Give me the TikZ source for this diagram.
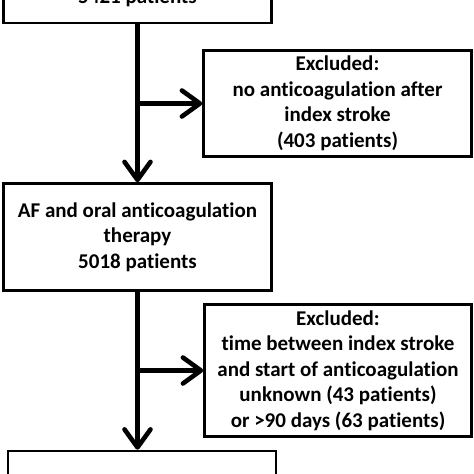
\documentclass[tikz,border=0pt]{standalone}
\usepackage{fontspec}
\setmainfont{Carlito}[Ligatures={NoCommon,NoContextual}]
\usetikzlibrary{arrows.meta}
\begin{document}
\begin{tikzpicture}[x=1pt,y=-1pt,
  txt/.style={font=\bfseries\fontsize{21}{25.5}\selectfont},
  box/.style={draw, line width=2.6pt, inner sep=0pt, align=center, txt},
  conn/.style={line width=4.6pt, -{Straight Barb[round,length=18pt,width=26pt]}}]
\useasboundingbox (0,0) rectangle (474,474);
\clip (0,0) rectangle (474,474);
\fill[white] (0,0) rectangle (474,474);
\node[box, minimum width=268pt, minimum height=110pt] (top) at (137.5,-32) {};
\node[txt, anchor=base] (toptxt) at (137.5,3.5) {5421 patients};
\node[box, minimum width=268pt, minimum height=106pt] (ex1) at (337.5,103.5)
  {Excluded:\\no anticoagulation after\\index stroke\\(403 patients)};
\node[box, minimum width=268pt, minimum height=107pt] (box2) at (137.5,237)
  {AF and oral anticoagulation\\therapy\\5018 patients};
\node[box, minimum width=267pt, minimum height=132pt] (ex2) at (338,370.5)
  {Excluded:\\time between index stroke\\and start of anticoagulation\\unknown (43 patients)\\or >90 days (63 patients)};
\node[box, minimum width=268pt, minimum height=98pt] (bot) at (142,500) {};
\draw[conn] (top.south) -- (box2.north);
\draw[conn] (top.south |- ex1.west) -- (ex1.west);
\draw[conn] (box2.south) -- (box2.south |- bot.north);
\draw[conn] (box2.south |- ex2.west) -- (ex2.west);
\end{tikzpicture}
\end{document}
